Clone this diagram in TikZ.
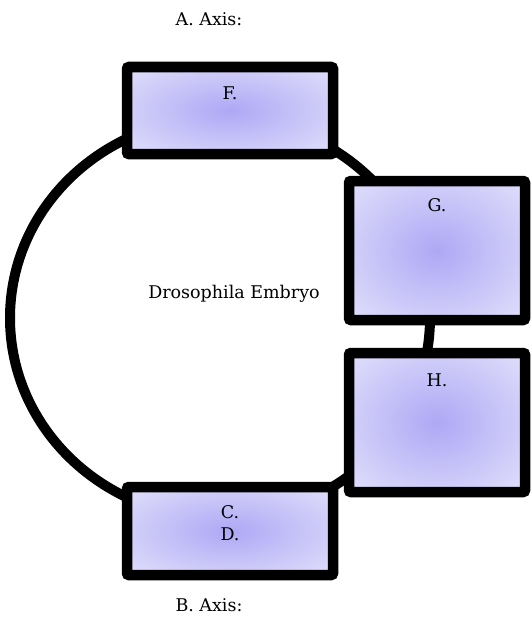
\documentclass[tikz,border=0pt]{standalone}
\usepackage{fontspec}
\setmainfont{DejaVu Serif}
\definecolor{boxin}{RGB}{174,168,245}
\definecolor{boxout}{RGB}{226,225,251}
\pgfdeclareradialshading{boxshade}{\pgfpoint{0bp}{0bp}}{color(0bp)=(boxin); color(36bp)=(boxout); color(50bp)=(boxout)}
\begin{document}
\begin{tikzpicture}[x=1pt,y=-1pt,
  box/.style={draw=black, line width=10.5pt, rounded corners=2pt, shading=boxshade, inner sep=0pt},
  lbl/.style={font=\fontsize{17.5}{22}\selectfont, inner sep=0pt, anchor=base, align=center},
  embryo/.style={draw=black, line width=10pt}]
\useasboundingbox (0,0) rectangle (532,626);
\draw[embryo] (220,318) ellipse [x radius=210pt, y radius=200pt];
\node[box, minimum width=206pt, minimum height=87pt] (F) at (230,110.5) {};
\node[box, minimum width=176pt, minimum height=139pt] (G) at (437,250.5) {};
\node[box, minimum width=176pt, minimum height=139pt] (H) at (437,422.5) {};
\node[box, minimum width=206pt, minimum height=88pt] (C) at (230,531) {};
\node[lbl] (tF) at (230,99.5) {F.};
\node[lbl] (tG) at (437,211) {G.};
\node[lbl] (tH) at (437,386) {H.};
\node[lbl] (tC) at (230,518) {C.};
\node[lbl] (tD) at (230,540) {D.};
\node[lbl] (emb) at (234,298.5) {Drosophila Embryo};
\node[lbl] (axA) at (209,26) {A. Axis:};
\node[lbl] (axB) at (209,611) {B. Axis:};
\end{tikzpicture}
\end{document}
